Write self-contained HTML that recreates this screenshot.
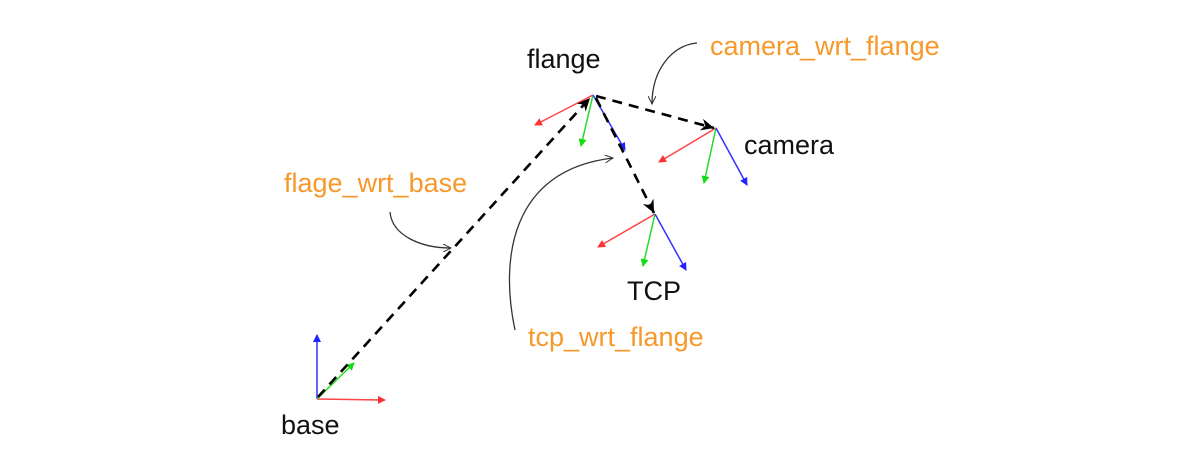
<!DOCTYPE html>
<html><head><meta charset="utf-8"><style>
html,body{margin:0;padding:0;background:#fff;}
svg{display:block}
text{font-family:"Liberation Sans",sans-serif;font-size:27px}
.o{fill:#f7982a}
</style></head><body>
<svg width="1200" height="473" viewBox="0 0 1200 473">
<defs>
<marker id="r" markerWidth="8" markerHeight="8" refX="7" refY="4" orient="auto" markerUnits="userSpaceOnUse"><path d="M0,0 L8,4 L0,8 z" fill="#f33"/></marker>
<marker id="g" markerWidth="8" markerHeight="8" refX="7" refY="4" orient="auto" markerUnits="userSpaceOnUse"><path d="M0,0 L8,4 L0,8 z" fill="#1d1"/></marker>
<marker id="b" markerWidth="8" markerHeight="8" refX="7" refY="4" orient="auto" markerUnits="userSpaceOnUse"><path d="M0,0 L8,4 L0,8 z" fill="#22f"/></marker>
<marker id="k" markerWidth="14" markerHeight="12" refX="13" refY="6" orient="auto" markerUnits="userSpaceOnUse"><path d="M0,0 L13,6 L0,12 L4,6 z" fill="#000"/></marker>
<marker id="s" markerWidth="9" markerHeight="8" refX="8" refY="4" orient="auto" markerUnits="userSpaceOnUse"><path d="M0,0 L8,4 L0,8" fill="none" stroke="#333" stroke-width="1"/></marker>
</defs>
<g stroke-width="1.5" fill="none">
<line x1="593" y1="95" x2="535" y2="125" stroke="#f44" marker-end="url(#r)"/>
<line x1="593" y1="95" x2="581" y2="146" stroke="#2d2" marker-end="url(#g)"/>
<line x1="593" y1="95" x2="625" y2="150" stroke="#33f" marker-end="url(#b)"/>
<line x1="716" y1="128" x2="659" y2="162" stroke="#f44" marker-end="url(#r)"/>
<line x1="716" y1="128" x2="704" y2="183" stroke="#2d2" marker-end="url(#g)"/>
<line x1="716" y1="128" x2="747" y2="185" stroke="#33f" marker-end="url(#b)"/>
<line x1="655" y1="214" x2="598" y2="247" stroke="#f44" marker-end="url(#r)"/>
<line x1="655" y1="214" x2="643" y2="266" stroke="#2d2" marker-end="url(#g)"/>
<line x1="655" y1="214" x2="686" y2="270" stroke="#33f" marker-end="url(#b)"/>
<line x1="317" y1="399" x2="385" y2="400" stroke="#f44" marker-end="url(#r)"/>
<line x1="317" y1="399" x2="317" y2="335" stroke="#33f" marker-end="url(#b)"/>
<line x1="317" y1="399" x2="354" y2="363" stroke="#2d2" marker-end="url(#g)"/>
</g>
<g stroke="#000" stroke-width="2.6" stroke-dasharray="10,7" fill="none">
<line x1="318" y1="397" x2="590" y2="98" marker-end="url(#k)"/>
<line x1="596" y1="96" x2="714" y2="128" marker-end="url(#k)"/>
<line x1="596" y1="98" x2="654" y2="213" marker-end="url(#k)"/>
</g>
<g stroke="#333" stroke-width="1.3" fill="none">
<path d="M390,212 C392,235 420,248 451,248" marker-end="url(#s)"/>
<path d="M697,43 C672,45 652,70 652,104" marker-end="url(#s)"/>
<path d="M515,330 C500,260 510,170 613,158" marker-end="url(#s)"/>
</g>
<text x="527" y="68" fill="#111">flange</text>
<text x="744" y="154" fill="#111">camera</text>
<text x="627" y="300" fill="#111">TCP</text>
<text x="281" y="434" fill="#111">base</text>
<text x="710" y="55" class="o">camera_wrt_flange</text>
<text x="284" y="192" class="o">flage_wrt_base</text>
<text x="528" y="346" class="o">tcp_wrt_flange</text>
</svg>
</body></html>
